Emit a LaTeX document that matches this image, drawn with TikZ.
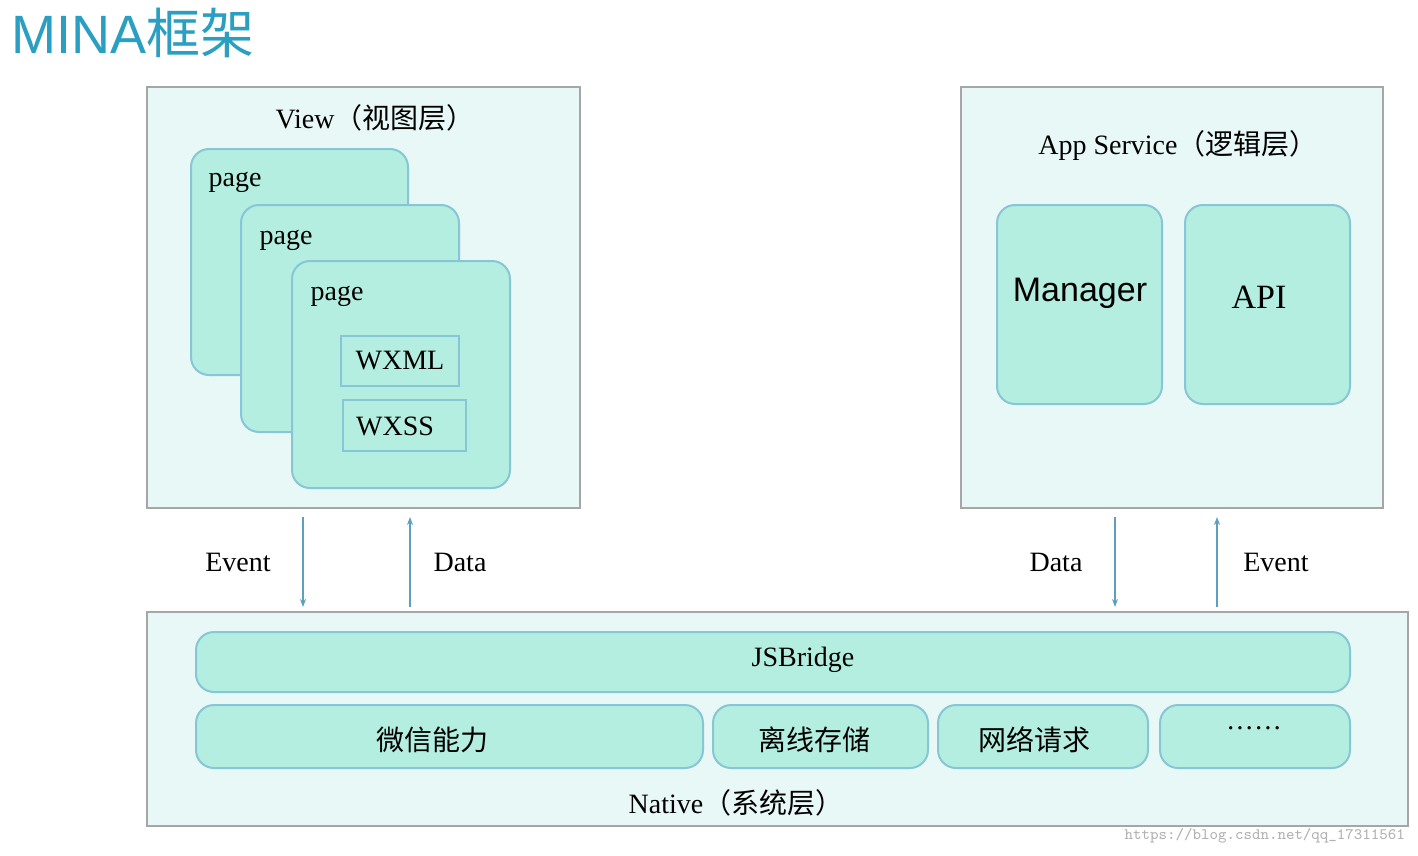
\documentclass[tikz,border=0pt]{standalone}
\usepackage{fontspec}
\setmainfont{Liberation Serif}
\newfontfamily\cjk{Noto Sans CJK SC}
\newfontfamily\sans{Liberation Sans}
\usetikzlibrary{arrows.meta,positioning}
\definecolor{panelfill}{HTML}{E8F8F6}
\definecolor{cellfill}{HTML}{B4EEE0}
\definecolor{celledge}{HTML}{86C6D6}
\definecolor{titleblue}{HTML}{2A9FC2}
\definecolor{arrowblue}{HTML}{5E9FC0}
\tikzset{
  panel/.style={draw=gray!70, fill=panelfill, line width=0.8pt},
  cell/.style={draw=celledge, fill=cellfill, rounded corners=9pt, line width=1pt},
  tag/.style={draw=celledge, fill=cellfill, line width=1pt},
  flow/.style={draw=arrowblue, line width=0.7pt, -{Stealth[length=4pt,width=3pt]}},
  lbl/.style={font=\fontsize{14}{16}\selectfont}
}
\begin{document}
\begin{tikzpicture}[x=0.5pt,y=-0.5pt]
    \useasboundingbox (0,0) rectangle (1418,856);
    % Title
    \node[anchor=west, text=titleblue, font=\sans\fontsize{27}{30}\selectfont] (title) at (4,33) {MINA{\cjk 框架}};

    % View layer
    \draw[panel] (147,87) rectangle (580,508);
    \node[lbl] (viewtitle) at (375,118) {View{\cjk（视图层）}};
    \draw[cell] (191,149) rectangle (408,375);
    \node[lbl] (pageA) at (235,182) {page};
    \draw[cell] (241,205) rectangle (459,432);
    \node[lbl] (pageB) at (286,240) {page};
    \draw[cell] (292,261) rectangle (510,488);
    \node[lbl] (pageC) at (337,296) {page};
    \draw[tag] (341,336) rectangle (459,386);
    \node[lbl] (wxml) at (400,361) {WXML};
    \draw[tag] (343,400) rectangle (466,451);
    \node[lbl] (wxss) at (395,426) {WXSS};

    % App Service layer
    \draw[panel] (961,87) rectangle (1383,508);
    \node[lbl] (apptitle) at (1178,145) {App Service{\cjk（逻辑层）}};
    \draw[cell] (997,205) rectangle (1162,404);
    \node[font=\sans\fontsize{17}{20}\selectfont] (manager) at (1080,293) {Manager};
    \draw[cell] (1185,205) rectangle (1350,404);
    \node[font=\fontsize{17}{20}\selectfont] (api) at (1259,297) {API};

    % Native layer
    \draw[panel] (147,612) rectangle (1408,826);
    \draw[cell] (196,632) rectangle (1350,692);
    \node[lbl] (jsb) at (803,660) {JSBridge};
    \draw[cell] (196,705) rectangle (703,768);
    \node[lbl, font=\cjk\fontsize{14}{16}\selectfont] (wx) at (432,740) {微信能力};
    \draw[cell] (713,705) rectangle (928,768);
    \node[lbl, font=\cjk\fontsize{14}{16}\selectfont] (store) at (814,740) {离线存储};
    \draw[cell] (938,705) rectangle (1148,768);
    \node[lbl, font=\cjk\fontsize{14}{16}\selectfont] (net) at (1034,740) {网络请求};
    \draw[cell] (1160,705) rectangle (1350,768);
    \node[lbl] (more) at (1254,732) {\textperiodcentered\textperiodcentered\textperiodcentered\textperiodcentered\textperiodcentered\textperiodcentered};
    \node[lbl] (native) at (736,803) {Native{\cjk（系统层）}};

    % Connectors
    \coordinate (vtop1) at (303,517); \coordinate (vbot1) at (303,607);
    \coordinate (vtop2) at (410,517); \coordinate (vbot2) at (410,607);
    \coordinate (atop1) at (1115,517); \coordinate (abot1) at (1115,607);
    \coordinate (atop2) at (1217,517); \coordinate (abot2) at (1217,607);
    \draw[flow] (vtop1) -- (vbot1);
    \draw[flow] (vbot2) -- (vtop2);
    \draw[flow] (atop1) -- (abot1);
    \draw[flow] (abot2) -- (atop2);
    \node[lbl] (ev1) at (238,562) {Event};
    \node[lbl] (da1) at (460,562) {Data};
    \node[lbl] (da2) at (1056,562) {Data};
    \node[lbl] (ev2) at (1276,562) {Event};

    % Watermark
    \node[anchor=east, text=gray!60, font=\ttfamily\fontsize{8}{9}\selectfont] (mark) at (1412,836) {https://blog.csdn.net/qq\_17311561};
\end{tikzpicture}
\end{document}
